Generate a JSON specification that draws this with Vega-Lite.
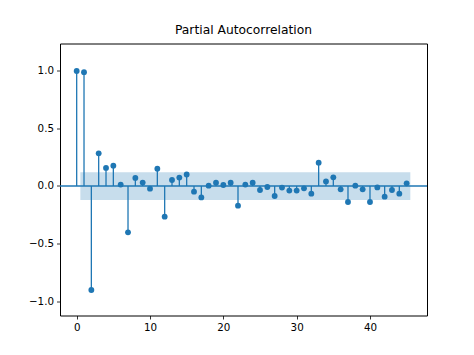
{
  "$schema": "https://vega.github.io/schema/vega-lite/v6.json",
  "width": 367,
  "height": 272,
  "autosize": {"type": "none"},
  "padding": {"left": 60, "top": 43.5, "right": 47, "bottom": 39.5},
  "background": "white",
  "config": {
    "font": "DejaVu Sans",
    "view": {"stroke": "#000", "strokeWidth": 1},
    "axis": {"grid": false, "domain": false, "labelFont": "DejaVu Sans", "labelFontSize": 10.3, "labelColor": "#000", "tickColor": "#000", "tickSize": 3.5, "tickWidth": 0.8, "labelPadding": 3, "titleFontSize": 10}
  },
  "title": {"text": "Partial Autocorrelation", "font": "DejaVu Sans", "fontSize": 12.3, "fontWeight": "normal", "color": "#000", "offset": 7, "anchor": "middle"},
  "datasets": {
    "pacf": [
      {"lag": 0, "v": 1.0}, {"lag": 1, "v": 0.99}, {"lag": 2, "v": -0.904}, {"lag": 3, "v": 0.284},
      {"lag": 4, "v": 0.157}, {"lag": 5, "v": 0.177}, {"lag": 6, "v": 0.012}, {"lag": 7, "v": -0.403},
      {"lag": 8, "v": 0.07}, {"lag": 9, "v": 0.03}, {"lag": 10, "v": -0.023}, {"lag": 11, "v": 0.15},
      {"lag": 12, "v": -0.267}, {"lag": 13, "v": 0.052}, {"lag": 14, "v": 0.073}, {"lag": 15, "v": 0.1},
      {"lag": 16, "v": -0.049}, {"lag": 17, "v": -0.099}, {"lag": 18, "v": 0.003}, {"lag": 19, "v": 0.029},
      {"lag": 20, "v": 0.009}, {"lag": 21, "v": 0.029}, {"lag": 22, "v": -0.171}, {"lag": 23, "v": 0.012},
      {"lag": 24, "v": 0.029}, {"lag": 25, "v": -0.035}, {"lag": 26, "v": -0.009}, {"lag": 27, "v": -0.087},
      {"lag": 28, "v": -0.014}, {"lag": 29, "v": -0.04}, {"lag": 30, "v": -0.04}, {"lag": 31, "v": -0.02},
      {"lag": 32, "v": -0.067}, {"lag": 33, "v": 0.203}, {"lag": 34, "v": 0.04}, {"lag": 35, "v": 0.075},
      {"lag": 36, "v": -0.029}, {"lag": 37, "v": -0.139}, {"lag": 38, "v": 0.003}, {"lag": 39, "v": -0.029},
      {"lag": 40, "v": -0.139}, {"lag": 41, "v": -0.012}, {"lag": 42, "v": -0.093}, {"lag": 43, "v": -0.035},
      {"lag": 44, "v": -0.067}, {"lag": 45, "v": 0.023}
    ],
    "band": [{"x0": 0.5, "x1": 45.5, "lo": -0.121, "hi": 0.12}]
  },
  "layer": [
    {
      "data": {"name": "band"},
      "mark": {"type": "rect", "color": "#1f77b4", "opacity": 0.25},
      "encoding": {
        "x": {"field": "x0", "type": "quantitative", "scale": {"domain": [-2.275, 47.775], "nice": false, "zero": false}, "axis": {"values": [0, 10, 20, 30, 40], "title": null}},
        "x2": {"field": "x1"},
        "y": {"field": "lo", "type": "quantitative", "scale": {"domain": [-1.126, 1.239], "nice": false, "zero": false}, "axis": {"values": [-1, -0.5, 0, 0.5, 1], "format": ".1f", "title": null}},
        "y2": {"field": "hi"}
      }
    },
    {
      "data": {"values": [{"z": 0}]},
      "mark": {"type": "rule", "color": "#1f77b4", "strokeWidth": 1.3},
      "encoding": {"y": {"field": "z", "type": "quantitative"}}
    },
    {
      "data": {"name": "pacf"},
      "mark": {"type": "rule", "color": "#1f77b4", "strokeWidth": 1.3},
      "encoding": {
        "x": {"field": "lag", "type": "quantitative"},
        "y": {"field": "v", "type": "quantitative"},
        "y2": {"datum": 0}
      }
    },
    {
      "data": {"name": "pacf"},
      "mark": {"type": "circle", "color": "#1f77b4", "opacity": 1, "size": 34},
      "encoding": {
        "x": {"field": "lag", "type": "quantitative"},
        "y": {"field": "v", "type": "quantitative"}
      }
    }
  ]
}
